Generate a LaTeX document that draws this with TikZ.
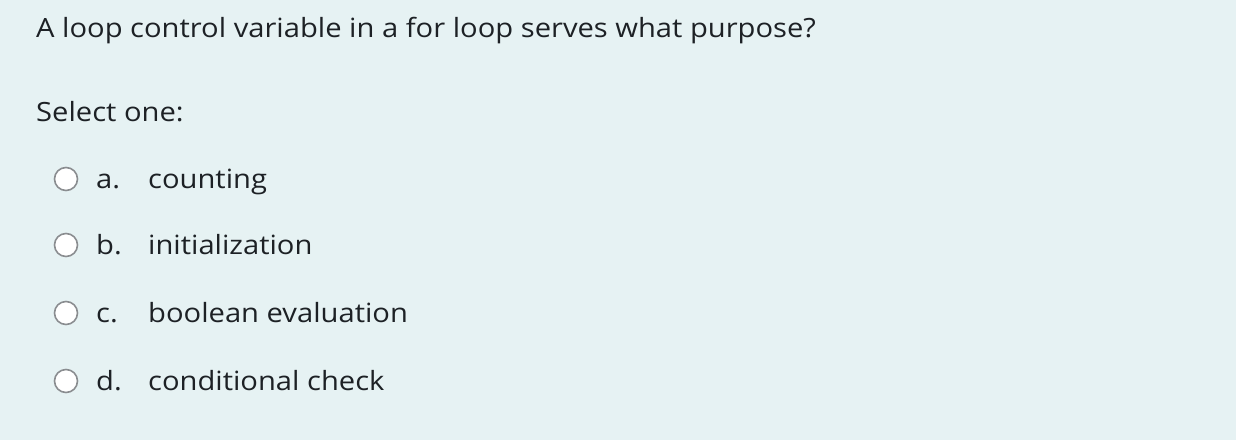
\documentclass[tikz,border=0pt]{standalone}
\usepackage{fontspec}
\setmainfont{Open Sans}[FakeStretch=1.1]
\definecolor{bg}{HTML}{E6F2F3}
\definecolor{ink}{HTML}{1D2125}
\definecolor{ring}{HTML}{8A8D90}
\begin{document}
\begin{tikzpicture}[x=1pt,y=1pt,
  txt/.style={anchor=base west,inner sep=0pt,text=ink,font=\fontsize{26.5}{30}\selectfont},
  radio/.style={circle,draw=ring,line width=1.6pt,fill=white,minimum size=23pt,inner sep=0pt}]
\fill[bg] (0,0) rectangle (1236,-440);
\useasboundingbox (0,0) rectangle (1236,-440);
\node[txt] (q) at (36,-37) {A loop control variable in a for loop serves what purpose?};
\node[txt] (s) at (36,-121) {Select one:};
\foreach \l/\t/\y [count=\i] in {a./counting/-188,b./initialization/-254,c./boolean evaluation/-322,d./conditional check/-390}{
  \node[radio] (r\i) at (66,\y+9) {};
  \node[txt] (l\i) at (96,\y) {\l};
  \node[txt] (t\i) at (148,\y) {\t};
}
\end{tikzpicture}
\end{document}
